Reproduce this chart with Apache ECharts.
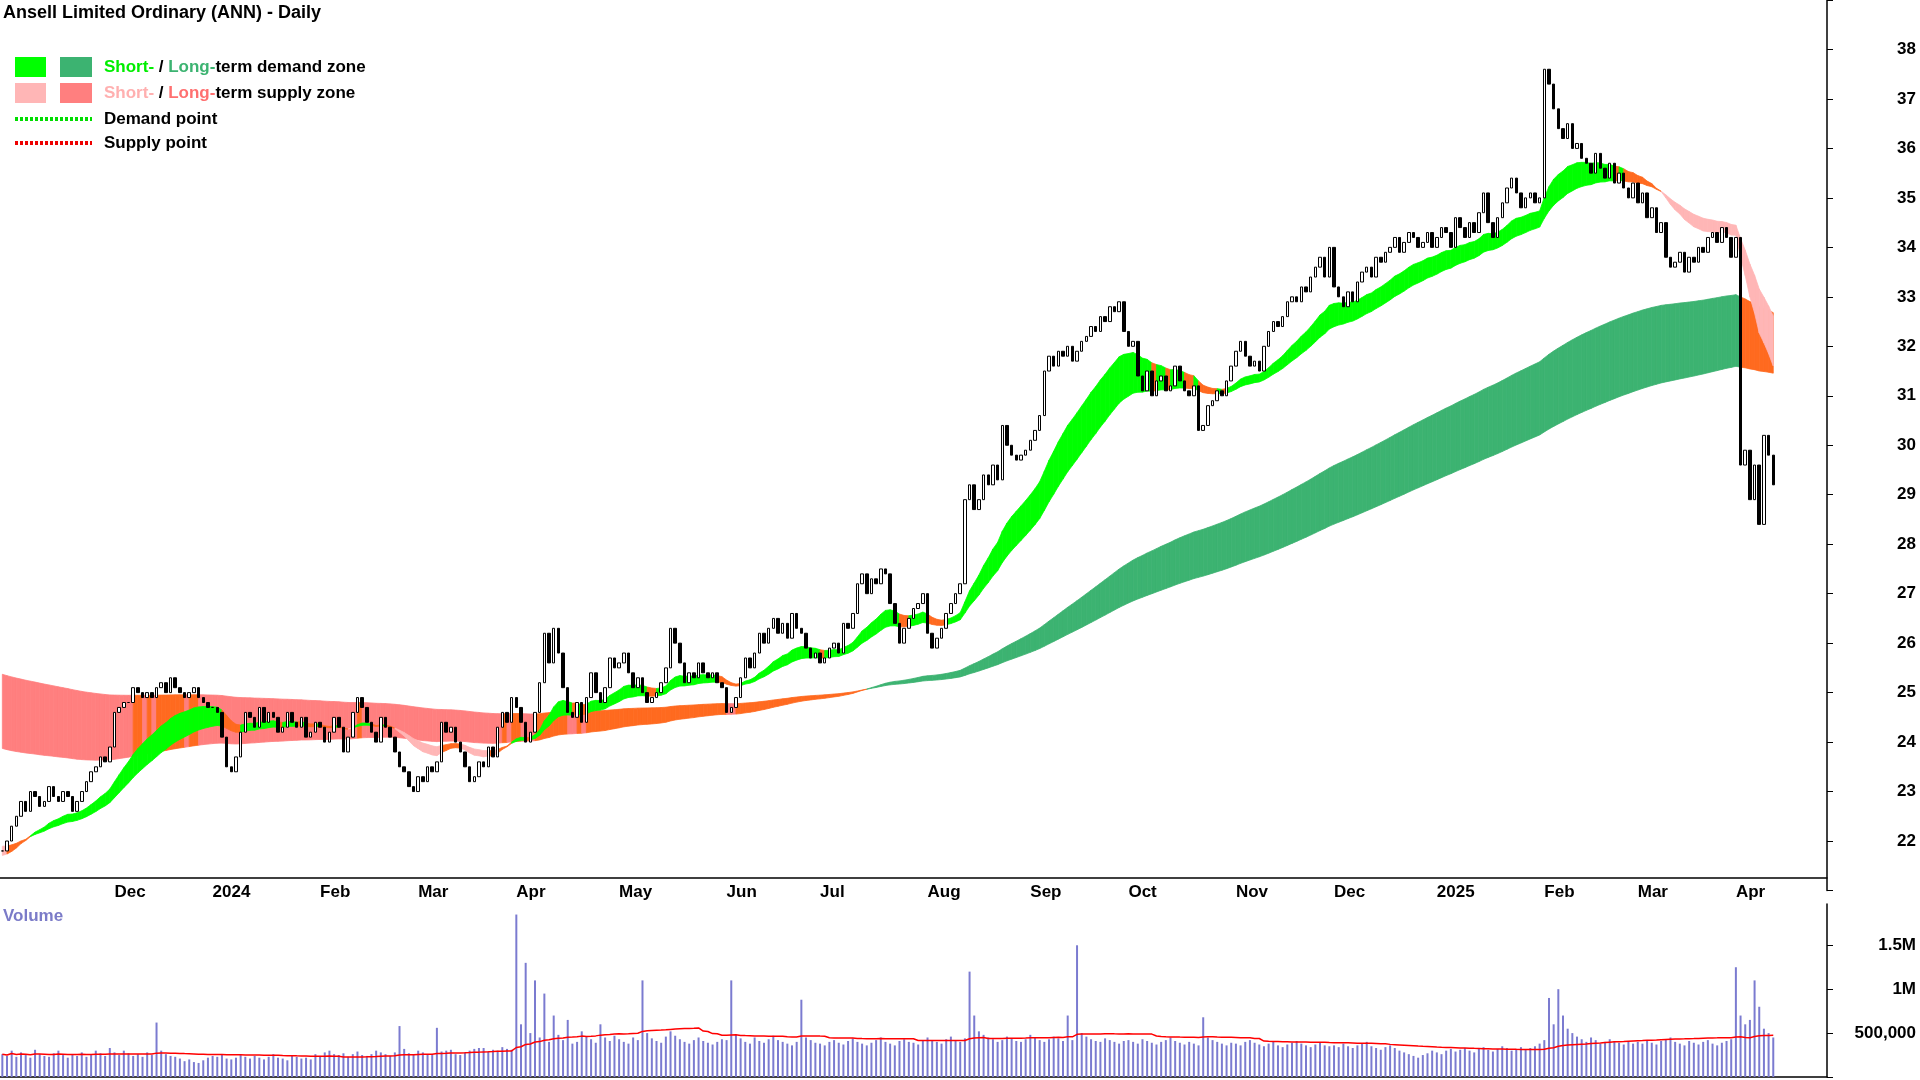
<!DOCTYPE html>
<html>
<head>
<meta charset="utf-8">
<script src="https://cdn.jsdelivr.net/npm/echarts@6/dist/echarts.min.js"></script>
<style>html,body{margin:0;padding:0;background:#fff}#chart{width:1920px;height:1080px}</style>
</head>
<body>
<div id="chart"></div>
<script>
// daily closes, one array per month (Oct 30 2023 .. Apr 9 2025)
const closeNov23 = [21.8,22.0,22.3,22.5,22.8,22.6,23.0,22.9,22.7,22.8,23.1,22.9,22.8,23.0,22.9,22.6,22.8,23.0,23.2,23.4,23.5,23.7,23.6,23.9];
const closeDec23 = [24.6,24.7,24.8,24.8,25.1,25.0,24.9,25.0,24.9,25.1,25.2,25.0,25.3,25.1,25.0,24.9,25.0,25.1,24.9,24.8,24.7];
const closeJan24 = [24.7,24.6,24.1,23.5,23.4,23.7,24.2,24.6,24.5,24.3,24.7,24.4,24.6,24.5,24.2,24.3,24.6,24.4,24.3,24.5,24.1,24.2,24.4];
const closeFeb24 = [24.3,24.0,24.2,24.5,24.3,23.8,24.1,24.6,24.9,24.7,24.4,24.2,24.0,24.5,24.3,24.1,23.8,23.5,23.4,23.1,23.0];
const closeMar24 = [23.3,23.2,23.5,23.4,23.6,24.4,24.2,24.3,24.0,23.8,23.5,23.2,23.3,23.6,23.5,23.9,23.7,24.3,24.6,24.4,24.9];
const closeApr24 = [24.7,24.4,24.0,24.2,24.6,25.2,26.2,25.6,26.3,25.8,25.1,24.6,24.5,24.8,24.4,24.9,25.4,25.0,24.8,25.1,25.7,25.5];
const closeMay24 = [25.6,25.8,25.4,25.1,25.3,25.0,24.8,24.9,25.0,25.2,25.5,26.3,26.0,25.6,25.2,25.4,25.3,25.6,25.4,25.3,25.4,25.2,25.1];
const closeJun24 = [24.6,24.7,24.9,25.3,25.7,25.5,25.8,26.2,26.0,26.3,26.5,26.2,26.4,26.1,26.6,26.3,26.2,25.9,25.7,25.8];
const closeJul24 = [25.6,25.7,25.9,26.0,25.8,26.4,26.3,26.6,27.2,27.4,27.0,27.3,27.2,27.5,27.4,26.8,26.4,26.0,26.3,26.5,26.7,26.8,27.0];
const closeAug24 = [26.2,25.9,26.1,26.3,26.6,26.8,27.0,27.2,28.9,29.2,28.7,28.9,29.4,29.2,29.6,29.3,30.4,30.0,29.8,29.7,29.8,29.9];
const closeSep24 = [30.1,30.3,30.6,31.5,31.8,31.6,31.9,31.8,32.0,31.7,31.9,32.1,32.2,32.4,32.3,32.6,32.5,32.8,32.7,32.9,32.3];
const closeOct24 = [32.0,32.1,31.4,31.1,31.5,31.0,31.3,31.4,31.1,31.2,31.6,31.3,31.1,31.0,31.2,30.3,30.4,30.8,30.9,31.1,31.0,31.3,31.6];
const closeNov24 = [31.9,32.1,31.8,31.6,31.7,31.5,32.0,32.3,32.5,32.4,32.6,32.9,33.0,32.9,33.2,33.1,33.4,33.6,33.8,33.4,34.0];
const closeDec24 = [33.2,33.0,32.8,33.1,32.9,33.3,33.5,33.6,33.4,33.8,33.7,33.9,34.0,34.2,33.9,34.1,34.3,34.2,34.0,34.1,34.3,34.0];
const closeJan25 = [34.2,34.4,34.3,34.0,34.6,34.4,34.2,34.5,34.3,34.7,35.1,34.5,34.2,34.6,34.9,35.2,35.4,35.1,34.8,35.0,35.1,34.9,35.0];
const closeFeb25 = [37.6,37.3,36.8,36.4,36.2,36.5,36.0,36.1,35.8,35.7,35.5,35.9,35.6,35.4,35.7,35.3,35.5,35.2,35.0,35.3];
const closeMar25 = [34.9,35.1,34.6,34.8,34.3,34.5,33.8,33.6,33.7,33.9,33.5,33.8,33.7,34.0,33.9,34.2,34.3,34.1,34.4,34.2,33.8];
const closeApr25 = [34.2,29.6,29.9,28.9,29.6,28.4,30.2,29.8,29.2];

// daily volume in thousands, same month layout
const volNov23 = [260,240,300,230,280,250,220,310,260,240,230,270,300,250,220,260,240,280,230,250,300,270,240,330];
const volDec23 = [280,250,300,270,240,260,230,280,250,620,300,260,240,230,210,180,200,170,160,190,220];
const volJan24 = [240,230,260,210,200,220,250,230,210,240,220,200,230,260,220,210,190,240,230,210,220,200,260];
const volFeb24 = [240,280,300,260,250,270,230,260,290,250,240,260,300,280,260,240,280,580,320,270,260];
const volMar24 = [300,280,260,250,560,290,300,310,260,250,280,300,320,330,330,290,310,300,340,320,310];
const volApr24 = [1850,600,1300,500,1100,450,950,400,700,480,420,650,380,400,520,460,430,390,600,450,410,470];
const volMay24 = [430,400,380,450,420,1100,500,440,410,390,460,520,470,430,400,380,420,450,410,390,370,400,430];
const volJun24 = [420,1100,480,440,400,380,450,410,390,430,470,420,400,380,360,400,880,450,420,390];
const volJul24 = [380,360,400,420,390,370,410,440,400,380,360,390,420,450,400,380,360,410,430,400,390,370,420];
const volAug24 = [450,420,400,380,430,460,420,400,440,1200,700,520,480,450,430,400,420,460,440,410,400,430];
const volSep24 = [480,450,420,400,430,460,440,410,700,420,1500,500,460,430,410,400,440,420,400,380,410];
const volOct24 = [420,400,380,430,410,390,370,400,420,450,410,390,370,400,380,360,680,450,420,400,380,360,390];
const volNov24 = [380,360,400,420,390,370,350,380,400,360,340,370,390,410,380,360,340,370,390,360,350];
const volDec24 = [360,340,380,350,330,360,380,400,350,330,310,340,360,330,300,280,260,240,220,250,270,300];
const volJan25 = [280,260,300,320,290,310,330,300,280,320,340,310,290,320,350,330,300,320,340,310,330,350,380];
const volFeb25 = [420,900,600,1000,700,550,500,460,430,400,450,420,380,400,430,410,390,370,400,380];
const volMar25 = [400,380,420,390,370,410,430,450,400,380,360,410,390,370,400,420,380,360,390,410,430];
const volApr25 = [1250,700,600,650,1100,800,550,500,450];

const closes = [].concat(closeNov23,closeDec23,closeJan24,closeFeb24,closeMar24,closeApr24,closeMay24,closeJun24,
  closeJul24,closeAug24,closeSep24,closeOct24,closeNov24,closeDec24,closeJan25,closeFeb25,closeMar25,closeApr25);
const volumes = [].concat(volNov23,volDec23,volJan24,volFeb24,volMar24,volApr24,volMay24,volJun24,
  volJul24,volAug24,volSep24,volOct24,volNov24,volDec24,volJan25,volFeb25,volMar25,volApr25).map(v => v * 1000);

const monthNames = ['Jan','Feb','Mar','Apr','May','Jun','Jul','Aug','Sep','Oct','Nov','Dec'];
const padDays = 11;

// trading-day calendar (weekdays)
const dates = [];
const d = new Date(2023, 9, 30);
while (dates.length < closes.length + padDays) {
  if (d.getDay() !== 0 && d.getDay() !== 6) dates.push(new Date(d));
  d.setDate(d.getDate() + 1);
}
const cats = dates.map((x, i) => String(i));
const monthStart = new Set();
dates.forEach((x, i) => { if (i > 10 && x.getMonth() !== dates[i - 1].getMonth()) monthStart.add(i); });
function monthLabel(i) {
  const x = dates[i];
  return x.getMonth() === 0 ? String(x.getFullYear()) : monthNames[x.getMonth()];
}

// candles: open at previous close
const candles = closes.map((c, i) => {
  const o = i === 0 ? c : closes[i - 1];
  return [o, c, Math.min(o, c), Math.max(o, c)];
});

function ema(arr, n, seed) {
  const k = 2 / (n + 1);
  let e = seed;
  return arr.map(v => (e = e + k * (v - e)));
}
const shortFast = ema(closes, 20, 21.7), shortSlow = ema(closes, 35, 21.9);
const longFast = ema(closes, 150, 23.9), longSlow = ema(closes, 240, 25.4);

// 0 demand, 1 supply, 2 transition
function bandData(f, s) {
  const out = [];
  for (let i = 0; i < closes.length - 1; i++) {
    const lo = Math.min(f[i], s[i]), hi = Math.max(f[i], s[i]);
    let st = f[i] >= s[i] ? 0 : 1;
    if (st === 0 && closes[i] < lo) st = 2;
    if (st === 1 && closes[i] > hi) st = 2;
    out.push([i, lo, hi, Math.min(f[i + 1], s[i + 1]), Math.max(f[i + 1], s[i + 1]), st]);
  }
  return out;
}
function bandSeries(data, colors, z) {
  return {
    type: 'custom', xAxisIndex: 0, yAxisIndex: 0, z: z, clip: true,
    encode: { x: 0, y: [1, 2, 3, 4] },
    data: data,
    renderItem: function (params, api) {
      const i = api.value(0);
      const c = colors[api.value(5)];
      return {
        type: 'polygon',
        shape: { points: [api.coord([i, api.value(1)]), api.coord([i + 1, api.value(3)]),
                          api.coord([i + 1, api.value(4)]), api.coord([i, api.value(2)])] },
        style: { fill: c, stroke: c, lineWidth: 0.8 }
      };
    }
  };
}

// volume average line
const volAvg = volumes.map((v, i) => {
  const s = volumes.slice(Math.max(0, i - 39), i + 1);
  return Math.round(s.reduce((a, b) => a + b, 0) / s.length);
});

const chart = echarts.init(document.getElementById('chart'));
const txt = { fontFamily: 'Liberation Sans', fontWeight: 'bold', fontSize: 16, fill: '#000' };
const legendRows = [
  { y: 67, c1: '#00ff00', c2: '#3cb371', a: '#00ee00', b: '#3cb371', word: 'term demand zone' },
  { y: 93, c1: '#ffb6b6', c2: '#ff7f7f', a: '#ffb0b0', b: '#ff7070', word: 'term supply zone' }
];
const graphics = [
  { type: 'text', left: 3, top: 4, style: Object.assign({}, txt, { text: 'Ansell Limited Ordinary (ANN) - Daily', fontSize: 18 }) },
  { type: 'text', left: 3, top: 908, style: Object.assign({}, txt, { text: 'Volume', fill: '#7b7bc8', fontSize: 17 }) }
];
legendRows.forEach(r => {
  graphics.push({ type: 'rect', shape: { x: 15, y: r.y - 10, width: 31, height: 20 }, style: { fill: r.c1 } });
  graphics.push({ type: 'rect', shape: { x: 60, y: r.y - 10, width: 32, height: 20 }, style: { fill: r.c2 } });
  graphics.push({ type: 'text', x: 104, y: r.y, style: {
    text: '{a|Short-} / {b|Long-}' + r.word, verticalAlign: 'middle', font: 'bold 17px "Liberation Sans"', fill: '#000',
    rich: { a: { fill: r.a, font: 'bold 17px "Liberation Sans"' }, b: { fill: r.b, font: 'bold 17px "Liberation Sans"' } } } });
});
[{ y: 119, c: '#00dd00', t: 'Demand point' }, { y: 143, c: '#ee0000', t: 'Supply point' }].forEach(r => {
  graphics.push({ type: 'line', shape: { x1: 15, y1: r.y, x2: 92, y2: r.y }, style: { stroke: r.c, lineWidth: 4, lineDash: [3, 2] } });
  graphics.push({ type: 'text', x: 104, y: r.y, style: Object.assign({}, txt, { text: r.t, verticalAlign: 'middle', fontSize: 17 }) });
});

chart.setOption({
  animation: false,
  backgroundColor: '#fff',
  graphic: graphics,
  grid: [
    { left: 0, right: 93, top: -10.9, bottom: 189.5 },
    { left: 0, right: 93, top: 904, bottom: 3 }
  ],
  xAxis: [
    { type: 'category', gridIndex: 0, data: cats, boundaryGap: true, offset: -12.5,
      axisLine: { lineStyle: { color: '#000', width: 1.5 } },
      axisTick: { interval: i => monthStart.has(i), length: 6, lineStyle: { color: '#000' } },
      axisLabel: { interval: i => monthStart.has(i), formatter: (v, i) => monthLabel(i), align: 'left', margin: 6,
                   color: '#000', fontWeight: 'bold', fontSize: 17, fontFamily: 'Liberation Sans' },
      splitLine: { show: false } },
    { type: 'category', gridIndex: 1, data: cats, position: 'top',
      axisLine: { lineStyle: { color: '#000', width: 1.5 } }, axisTick: { show: false }, axisLabel: { show: false } }
  ],
  yAxis: [
    { type: 'value', gridIndex: 0, position: 'right', min: 21, max: 39, interval: 1,
      axisLine: { show: true, lineStyle: { color: '#000', width: 1.5 } },
      axisTick: { show: true, inside: false, length: 6, lineStyle: { color: '#000' } },
      axisLabel: { formatter: v => (v < 22 || v > 38 ? '' : String(v)), align: 'right', margin: 89,
                   color: '#000', fontWeight: 'bold', fontSize: 17, fontFamily: 'Liberation Sans' },
      splitLine: { show: false } },
    { type: 'value', gridIndex: 1, position: 'right', min: 0, max: 1970000, interval: 500000,
      axisLine: { show: true, lineStyle: { color: '#000', width: 1.5 } },
      axisTick: { show: true, length: 6, lineStyle: { color: '#000' } },
      axisLabel: { showMaxLabel: false,
                   formatter: v => (v === 0 ? '' : v === 500000 ? '500,000' : (v / 1e6) + 'M'),
                   align: 'right', margin: 89, color: '#000', fontWeight: 'bold', fontSize: 17, fontFamily: 'Liberation Sans' },
      splitLine: { show: false } }
  ],
  series: [
    bandSeries(bandData(longFast, longSlow), ['#3cb371', '#ff7f7f', '#ff6a1f'], 1),
    bandSeries(bandData(shortFast, shortSlow), ['#00ff00', '#ffb6b6', '#ff6a1f'], 2),
    { type: 'candlestick', xAxisIndex: 0, yAxisIndex: 0, z: 5, data: candles, barWidth: 3,
      itemStyle: { color: '#fff', color0: '#000', borderColor: '#000', borderColor0: '#000', borderWidth: 1 } },
    { type: 'bar', xAxisIndex: 1, yAxisIndex: 1, data: volumes, barWidth: 2,
      itemStyle: { color: '#7b7bd0' } },
    { type: 'line', xAxisIndex: 1, yAxisIndex: 1, data: volAvg, symbol: 'none', z: 5,
      lineStyle: { color: '#ff0000', width: 1.5 } }
  ]
});
</script>
</body>
</html>
